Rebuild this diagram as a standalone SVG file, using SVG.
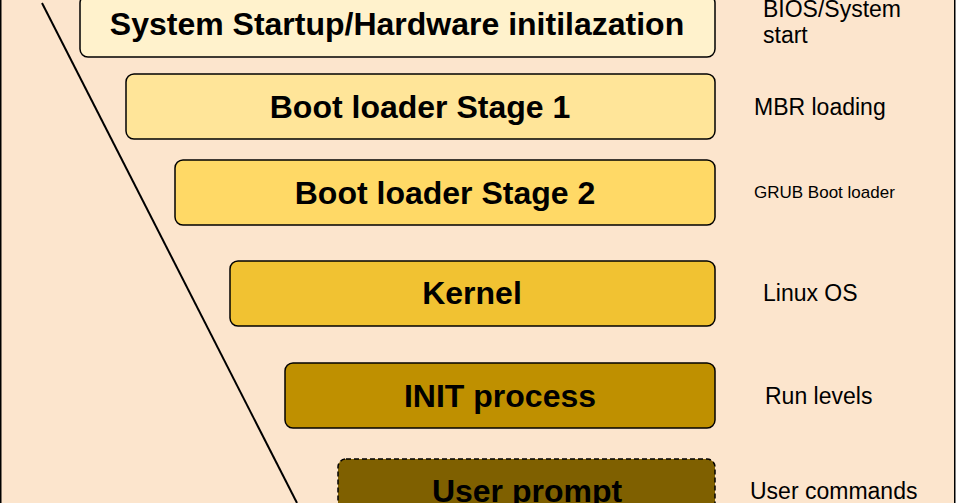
<svg xmlns="http://www.w3.org/2000/svg" width="958" height="503" viewBox="0 0 958 503">
<style>
.b{stroke:#000;stroke-width:1.5}
.t{font-family:"Liberation Sans",Arial,sans-serif;font-weight:bold;font-size:32px;text-anchor:middle;fill:#000}
.l{font-family:"Liberation Sans",Arial,sans-serif;font-size:23px;fill:#000}
</style>
<rect x="0.75" y="-2" width="954" height="510" fill="#fce5cd" stroke="#000" stroke-width="1.5"/>
<g id="conn"><line x1="42" y1="3" x2="297" y2="503" stroke="#000" stroke-width="2"/></g>
<g id="n1"><rect class="b" x="80" y="-5" width="635" height="62" rx="8" fill="#fff2cc"/><text class="t" x="397" y="35">System Startup/Hardware initilazation</text></g>
<g id="n2"><rect class="b" x="126" y="74" width="589" height="65" rx="8" fill="#ffe599"/><text class="t" x="420" y="118">Boot loader Stage 1</text></g>
<g id="n3"><rect class="b" x="175" y="160" width="540" height="65" rx="8" fill="#ffd966"/><text class="t" x="445" y="204">Boot loader Stage 2</text></g>
<g id="n4"><rect class="b" x="230" y="261" width="485" height="65" rx="8" fill="#f1c232"/><text class="t" x="472" y="304">Kernel</text></g>
<g id="n5"><rect class="b" x="285" y="363" width="430" height="65" rx="8" fill="#bf9000"/><text class="t" x="500" y="407">INIT process</text></g>
<g id="n6"><rect x="338" y="459" width="377" height="65" rx="8" fill="#7f6000" stroke="#000" stroke-width="1.5" stroke-dasharray="5,3"/><text class="t" x="527" y="502">User prompt</text></g>
<g id="labels">
<text class="l" x="763" y="17">BIOS/System</text>
<text class="l" x="763" y="43">start</text>
<text class="l" x="754" y="115">MBR loading</text>
<text class="l" x="754" y="198" style="font-size:17px">GRUB Boot loader</text>
<text class="l" x="763" y="301">Linux OS</text>
<text class="l" x="765" y="404">Run levels</text>
<text class="l" x="750" y="499">User commands</text>
</g>
</svg>
